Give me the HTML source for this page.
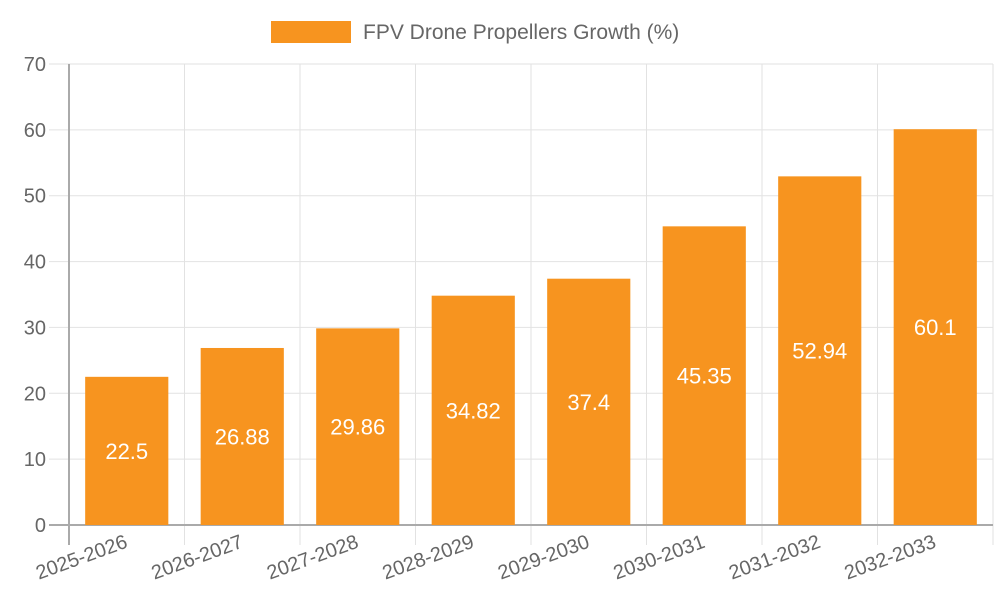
<!DOCTYPE html>
<html><head><meta charset="utf-8"><style>
body{margin:0;background:#fff;width:1000px;height:600px;overflow:hidden}
text{font-family:"Liberation Sans",sans-serif}
</style></head><body>
<svg id="chart" width="1000" height="600"></svg>
<script>
const categories=["2025-2026","2026-2027","2027-2028","2028-2029","2029-2030","2030-2031","2031-2032","2032-2033"];
const values=[22.5,26.88,29.86,34.82,37.4,45.35,52.94,60.1];
const yTicks=[0,10,20,30,40,50,60,70];
const seriesName="FPV Drone Propellers Growth (%)";
const svg=document.getElementById('chart');
const NS='http://www.w3.org/2000/svg';
const L=69,R=993,T=64,B=525,YMAX=70;
const band=(R-L)/categories.length;
const y=v=>B-(v/YMAX)*(B-T);
const xc=i=>L+band*(i+0.5);
function mk(tag,attrs,parent){const e=document.createElementNS(NS,tag);for(const k in attrs)e.setAttribute(k,attrs[k]);(parent||svg).appendChild(e);return e;}
// legend
const lg=mk('g',{});


mk('rect',{x:271,y:21,width:80,height:22,fill:'#f7941f'},lg);
const lt=mk('text',{x:363,y:39,'font-size':21,fill:'#666'},lg);lt.textContent=seriesName;
// grid + y ticks
yTicks.forEach(t=>{
  const g=mk('line',{x1:49,x2:R,y1:y(t),y2:y(t),stroke:t===0?'#aaa':'#e2e2e2','stroke-width':t===0?2:1});
  
  
  const tx=mk('text',{x:46,y:y(t)+7,'font-size':20,fill:'#666','text-anchor':'end'});
  
  
  tx.textContent=t;
});
for(let i=0;i<=categories.length;i++){
  const x=L+band*i;
  const g=mk('line',{x1:x,x2:x,y1:T,y2:545,stroke:i===0?'#aaa':'#e2e2e2','stroke-width':i===0?2:1});
  
  
}
mk('line',{x1:49,x2:R,y1:B,y2:B,stroke:'#aaa','stroke-width':2});
categories.forEach((c,i)=>{
  const bw=band*0.72;
  const r=mk('rect',{x:xc(i)-bw/2,y:y(values[i]),width:bw,height:B-y(values[i]),fill:'#f7941f'});
  
  
  const v=mk('text',{x:xc(i),y:(y(values[i])+B)/2+8,'font-size':22,fill:'#fff','text-anchor':'middle'});
  
  
  v.textContent=values[i];
  const cx=xc(i)+2,cy=547;
  const l=mk('text',{x:cx,y:cy,'font-size':20,fill:'#666','text-anchor':'end',transform:`rotate(-20 ${cx} ${cy})`});
  
  
  l.textContent=c;
});
</script>
</body></html>
